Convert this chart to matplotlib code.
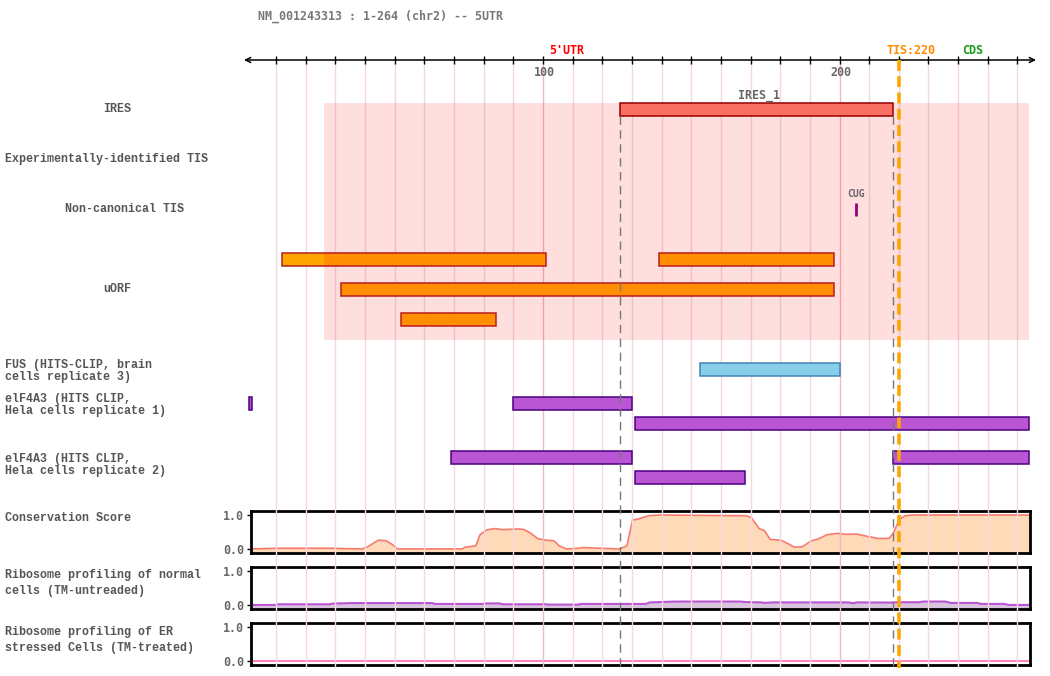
import matplotlib
matplotlib.use("Agg")
import matplotlib.pyplot as plt
from matplotlib.patches import Rectangle

# transcript / track data (positions in nt)
seq_len = 264
tis_pos = 220
major_ticks = [100, 200]
minor_ticks = list(range(10, 270, 10))

ires_start = [126]
ires_end = [218]
ires_names = ["IRES_1"]
ires_region = [26, 264]

cug_pos = [205.5]

uorf_start = [12, 139, 32, 52]
uorf_end = [101, 198, 198, 84]
uorf_row = [0, 0, 1, 2]

fus_start = [153]
fus_end = [200]

eif1_start = [1.0, 90, 131]
eif1_end = [1.8, 130, 264]
eif1_row = [0, 0, 1]

eif2_start = [69, 218, 131]
eif2_end = [130, 264, 168]
eif2_row = [0, 0, 1]

cons_pos = [1.5, 9.9, 28.1, 39.0, 40.9, 44.5, 47.2, 49.0, 50.9, 72.8, 73.7, 77.3,
            78.8, 81.0, 83.7, 86.4, 91.9, 93.7, 95.9, 98.3, 101.0, 103.7, 105.5,
            107.9, 111.9, 113.7, 119.2, 125.8, 128.3, 130.2, 132.0, 135.6, 139.2,
            168.4, 170.2, 172.9, 174.7, 176.6, 180.2, 183.0, 184.8, 187.5, 190.3,
            193.0, 195.8, 199.4, 202.1, 205.8, 209.4, 213.0, 216.7, 218.1, 220.3,
            222.1, 224.9, 264.0]
cons_val = [0.0, 0.02, 0.02, 0.0, 0.065, 0.26, 0.24, 0.14, 0.0, 0.0, 0.05, 0.09,
            0.42, 0.56, 0.60, 0.57, 0.59, 0.57, 0.46, 0.30, 0.26, 0.24, 0.09,
            0.0, 0.02, 0.04, 0.02, 0.0, 0.09, 0.85, 0.88, 0.98, 1.0,
            0.98, 0.93, 0.60, 0.54, 0.28, 0.26, 0.14, 0.05, 0.065, 0.23,
            0.30, 0.42, 0.46, 0.43, 0.44, 0.37, 0.31, 0.31, 0.46, 0.88,
            0.98, 1.0, 1.0]

ribo_pos = [1.5, 9.9, 10.8, 28.1, 29.0, 35.4, 62.7, 63.5, 80.0, 80.8, 85.5, 86.3,
            101.0, 101.8, 111.9, 112.7, 134.7, 136.0, 144.7, 166.5, 168.4, 173.8,
            174.7, 177.5, 202.9, 204.8, 205.7, 217.5, 219.3, 226.6, 228.4, 235.7,
            237.5, 246.6, 247.5, 255.7, 257.0, 264.0]
ribo_val = [0.0, 0.0, 0.02, 0.02, 0.04, 0.055, 0.055, 0.03, 0.03, 0.045, 0.045, 0.02,
            0.02, 0.01, 0.01, 0.03, 0.03, 0.075, 0.1, 0.1, 0.085, 0.075,
            0.06, 0.075, 0.075, 0.05, 0.075, 0.07, 0.08, 0.08, 0.1, 0.1,
            0.06, 0.06, 0.03, 0.03, 0.0, 0.0]

er_pos = [1.5, 264.0]
er_val = [0.0, 0.0]

track_labels = ["IRES", "Experimentally-identified TIS", "Non-canonical TIS", "uORF",
                "FUS (HITS-CLIP, brain\ncells replicate 3)",
                "elF4A3 (HITS CLIP,\nHela cells replicate 1)",
                "elF4A3 (HITS CLIP,\nHela cells replicate 2)",
                "Conservation Score",
                "Ribosome profiling of normal\ncells (TM-untreaded)",
                "Ribosome profiling of ER\nstressed Cells (TM-treated)"]

# layout (pixels)
W, H = 1050, 676
X0, PXU = 246.5, 2.965


def u(px):
    return (px - X0) / PXU


def fx(px):
    return px / W


def fy(py):
    return 1 - py / H


fig = plt.figure(figsize=(W / 100, H / 100), dpi=100)
fig.patch.set_facecolor("white")

mono = "DejaVu Sans Mono"
lab_font = dict(family="Liberation Mono", weight="bold", size=8.4, color="#555555")

# signal panels
panels = [(511, 553, cons_pos, cons_val, "#f77a6c", "#ffdab9", 1.2),
          (567, 609, ribo_pos, ribo_val, "#ba55d3", "#d8c4dc", 1.5),
          (623, 665, er_pos, er_val, "#ff69b4", None, 1.2)]
for top, bot, xs, ys, lc, fc, lw in panels:
    pa = fig.add_axes([fx(251), fy(bot), (1030 - 251) / W, (bot - top) / H])
    pa.set_xlim(u(251), u(1030))
    pa.set_ylim(-0.12, 1.12)
    if fc:
        pa.fill_between(xs, ys, -0.12, color=fc, lw=0)
    pa.plot(xs, ys, color=lc, lw=lw)
    pa.set_xticks([])
    pa.set_yticks([0, 1])
    pa.set_yticklabels(["0.0", "1.0"], family=mono, weight="bold",
                       size=8.4, color="#666666")
    pa.tick_params(axis="y", length=3, width=1, pad=2)
    for s in pa.spines.values():
        s.set_linewidth(2)
    pa.set_facecolor("white")

# main track axes, on top, transparent
ax = fig.add_axes([0, 0, 1, 1])
ax.set_facecolor("none")
ax.set_xlim(u(0), u(W))
ax.set_ylim(H, 0)
ax.axis("off")

# grid
ax.vlines([t for t in minor_ticks if t not in major_ticks], 62, 668,
          colors="#f3d8e2", lw=1, zorder=0.5)
ax.vlines(major_ticks, 62, 668, colors="#ecbcc6", lw=1, zorder=0.5)

# top ruler
ax.annotate("", xy=(u(1036), 60), xytext=(u(244), 60),
            arrowprops=dict(arrowstyle="<->", lw=1.1, color="black",
                            mutation_scale=9, shrinkA=0, shrinkB=0))
ax.vlines(minor_ticks, 56, 64, colors="black", lw=1)
for t in major_ticks:
    ax.text(t + 0.4, 73, str(t), ha="center", va="center", family=mono,
            weight="bold", size=8.4, color="#666666")

# IRES
ax.add_patch(Rectangle((ires_region[0], 103), ires_region[1] - ires_region[0], 237,
                       facecolor="red", alpha=0.13, lw=0, zorder=3))
ax.barh([109.5] * len(ires_start), [e - s for s, e in zip(ires_start, ires_end)],
        left=ires_start, height=13, color="salmon", edgecolor="darkred", lw=1.1, zorder=2)
for s, e, n in zip(ires_start, ires_end, ires_names):
    ax.text((s + e) / 2 + 1, 96, n, ha="center", va="center", family=mono,
            weight="bold", size=8.4, color="#666666")

# non-canonical TIS
ax.vlines(cug_pos, 203, 216, colors="#8b008b", lw=2, zorder=2)
for p in cug_pos:
    ax.text(p, 194, "CUG", ha="center", va="center", family=mono,
            weight="bold", size=7, color="#666666")

# uORF
uorf_y = [259.5, 289.5, 319.5]
ax.barh([uorf_y[r] for r in uorf_row], [e - s for s, e in zip(uorf_start, uorf_end)],
        left=uorf_start, height=13, color="orange", edgecolor="#b22222", lw=1.1, zorder=2)

# FUS
ax.barh([369.5] * len(fus_start), [e - s for s, e in zip(fus_start, fus_end)],
        left=fus_start, height=13, color="skyblue", edgecolor="steelblue", lw=1.1, zorder=2)

# eIF4A3 replicates
eif1_y = [403.5, 423.5]
eif2_y = [457.5, 477.5]
ax.barh([eif1_y[r] for r in eif1_row], [e - s for s, e in zip(eif1_start, eif1_end)],
        left=eif1_start, height=13, color="mediumorchid", edgecolor="indigo", lw=1.1, zorder=2)
ax.barh([eif2_y[r] for r in eif2_row], [e - s for s, e in zip(eif2_start, eif2_end)],
        left=eif2_start, height=13, color="mediumorchid", edgecolor="indigo", lw=1.1, zorder=2)

# IRES boundaries + TIS
ax.vlines([ires_start[0], ires_end[0]], 116, 668, colors="#777777", lw=1,
          linestyles=(0, (6, 4)), zorder=4)
ax.vlines([tis_pos], 60, 668, colors="orange", lw=2.6,
          linestyles=(0, (3, 1.5)), zorder=5)

# top labels
fig.text(fx(258), fy(16), "NM_001243313 : 1-264 (chr2) -- 5UTR", family=mono,
         weight="bold", size=8.4, color="#777777", va="center", ha="left")
fig.text(fx(567), fy(51), "5'UTR", family=mono, weight="bold", size=8.4,
         color="red", ha="center", va="center")
fig.text(fx(911), fy(51), "TIS:220", family=mono, weight="bold", size=8.4,
         color="darkorange", ha="center", va="center")
fig.text(fx(973), fy(51), "CDS", family=mono, weight="bold", size=8.4,
         color="#1a9a1a", ha="center", va="center")

# left track labels: (x, y, ha, linespacing)
label_pos = [(117, 109, "center", 1.0), (5, 159, "left", 1.0), (65, 209, "left", 1.0),
             (117, 289, "center", 1.0), (5, 371, "left", 1.0), (5, 405, "left", 1.0),
             (5, 465, "left", 1.0), (5, 518, "left", 1.0), (5, 583, "left", 1.35),
             (5, 640, "left", 1.35)]
for txt, (x, y, ha, ls) in zip(track_labels, label_pos):
    fig.text(fx(x), fy(y), txt, ha=ha, va="center", linespacing=ls, **lab_font)

fig.savefig("out.png", dpi=100)
